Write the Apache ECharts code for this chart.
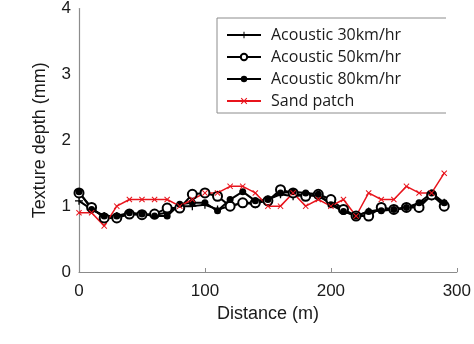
<!DOCTYPE html>
<html><head><meta charset="utf-8">
<script src="https://cdn.jsdelivr.net/npm/echarts@6/dist/echarts.min.js"></script>
<style>html,body{margin:0;padding:0;background:#fff}#c{width:474px;height:344px}</style>
</head><body><div id="c"></div>
<script>
const distance = [0,10,20,30,40,50,60,70,80,90,100,110,120,130,140,150,160,170,180,190,200,210,220,230,240,250,260,270,280,290];
const acoustic30 = [1.08,0.95,0.85,0.85,0.88,0.87,0.87,0.9,1.0,1.0,1.02,0.95,1.0,1.05,1.03,1.1,1.18,1.15,1.17,1.15,1.05,0.93,0.85,0.92,0.95,0.95,0.97,1.03,1.15,1.05];
const acoustic50 = [1.2,0.98,0.82,0.82,0.88,0.87,0.88,0.97,0.97,1.18,1.2,1.15,1.0,1.05,1.05,1.08,1.25,1.2,1.15,1.18,1.1,0.95,0.85,0.85,0.98,0.95,0.98,0.98,1.17,1.0];
const acoustic80 = [1.22,0.95,0.85,0.85,0.9,0.88,0.85,0.85,1.03,1.05,1.05,0.93,1.1,1.22,1.08,1.1,1.2,1.22,1.2,1.18,1.02,0.92,0.85,0.92,0.93,0.95,0.98,1.05,1.2,1.05];
const sandPatch = [0.9,0.9,0.7,1.0,1.1,1.1,1.1,1.1,1.0,1.1,1.2,1.2,1.3,1.3,1.2,1.0,1.0,1.2,1.0,1.1,1.0,1.1,0.85,1.2,1.1,1.1,1.3,1.2,1.2,1.5];
const xTicks = [0,100,200,300];
const yTicks = [0,1,2,3,4];
const names = ['Acoustic 30km/hr','Acoustic 50km/hr','Acoustic 80km/hr','Sand patch'];

const pair = arr => distance.map((d,i)=>[d,arr[i]]);
const plusPath = 'path://M0,4.2L4.2,4.2L4.2,0L5.8,0L5.8,4.2L10,4.2L10,5.8L5.8,5.8L5.8,10L4.2,10L4.2,5.8L0,5.8Z';
const crossPath = 'path://M0,1.2L1.2,0L5,3.8L8.8,0L10,1.2L6.2,5L10,8.8L8.8,10L5,6.2L1.2,10L0,8.8L3.8,5Z';
const axisCol = '#8c8c8c';
const txt = '#1a1a1a';

const chart = echarts.init(document.getElementById('c'));
chart.setOption({
  animation:false,
  grid:{left:79,right:17,top:7,bottom:72},
  xAxis:{type:'value',min:0,max:300,interval:100,
    name:'Distance (m)',nameLocation:'middle',nameGap:32,
    nameTextStyle:{fontFamily:'Liberation Sans',fontSize:18,color:txt},
    axisLine:{show:true,lineStyle:{color:axisCol,width:1.2}},
    axisTick:{show:true,inside:true,length:4,lineStyle:{color:axisCol}},
    axisLabel:{fontFamily:'Liberation Sans',fontSize:17,color:txt,margin:11,
      formatter:v=>xTicks.includes(v)?String(v):''},
    splitLine:{show:false}},
  yAxis:{type:'value',min:0,max:4,interval:1,
    name:'Texture depth (mm)',nameLocation:'middle',nameGap:30,
    nameTextStyle:{fontFamily:'Liberation Sans',fontSize:18,color:txt},
    axisLine:{show:true,lineStyle:{color:axisCol,width:1.2}},
    axisTick:{show:false},
    axisLabel:{fontFamily:'Liberation Sans',fontSize:17,color:txt,margin:8,
      formatter:v=>yTicks.includes(v)?String(v):''},
    splitLine:{show:false}},
  legend:{orient:'vertical',left:221,top:22,itemWidth:34,itemHeight:8,itemGap:6,
    data:names,
    textStyle:{fontFamily:'Open Sans',fontSize:16,color:txt,padding:[0,0,0,5]},
    borderWidth:0},
  graphic:[{type:'polyline',shape:{points:[[446,18],[217,18],[217,113],[446,113]]},
    style:{stroke:'#8c8c8c',lineWidth:1,fill:null},z:10}],
  series:[
    {name:names[0],type:'line',data:pair(acoustic30),symbol:plusPath,symbolSize:8,
      lineStyle:{color:'#000',width:2},itemStyle:{color:'#000'}},
    {name:names[1],type:'line',data:pair(acoustic50),symbol:'emptyCircle',symbolSize:9,
      lineStyle:{color:'#000',width:2},itemStyle:{color:'#000',borderWidth:1.6}},
    {name:names[2],type:'line',data:pair(acoustic80),symbol:'circle',symbolSize:7,
      lineStyle:{color:'#000',width:2},itemStyle:{color:'#000'}},
    {name:names[3],type:'line',data:pair(sandPatch),symbol:crossPath,symbolSize:6,
      lineStyle:{color:'#e8141c',width:1.5},itemStyle:{color:'#e8141c'}}
  ]
});
</script></body></html>
